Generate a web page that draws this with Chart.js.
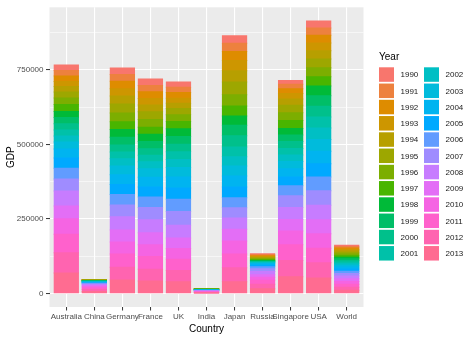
<!DOCTYPE html>
<html>
<head>
<meta charset="utf-8">
<title>GDP by country</title>
<script src="https://cdn.jsdelivr.net/npm/chart.js@4.4.1/dist/chart.umd.min.js"></script>
<style>
  html, body { margin: 0; padding: 0; background: #ffffff; }
  canvas { display: block; }
</style>
</head>
<body>
<canvas id="gdpChart" width="474" height="338"></canvas>
<script>
// categories and years
const countries = ['Australia', 'China', 'Germany', 'France', 'UK', 'India', 'Japan', 'Russia', 'Singapore', 'USA', 'World'];
const years = [1990, 1991, 1992, 1993, 1994, 1995, 1996, 1997, 1998, 1999, 2000, 2001,
               2002, 2003, 2004, 2005, 2006, 2007, 2008, 2009, 2010, 2011, 2012, 2013];

// GDP per capita, one value per year (1990 .. 2013)
const australia = [18200, 18800, 18000, 17000, 18100, 20300, 21900, 23400, 20400, 20600, 21700, 19500,
                   20100, 23500, 30500, 34000, 36100, 41000, 49600, 42800, 52000, 62500, 68000, 68200];
const china     = [300, 310, 350, 360, 450, 580, 670, 740, 790, 830, 910, 1000,
                   1090, 1230, 1430, 1660, 2000, 2570, 3300, 3640, 4320, 5320, 5990, 6700];
const germany   = [21500, 22600, 25500, 24600, 26200, 30600, 29400, 26000, 26300, 25900, 22900, 22800,
                   24300, 29300, 32900, 33500, 35000, 40100, 44000, 40200, 40300, 45000, 42400, 44900];
const france    = [21100, 21000, 23100, 21700, 22800, 26100, 26100, 23500, 24200, 24000, 21700, 21700,
                   23500, 28700, 32800, 33800, 35400, 40400, 44000, 40400, 39500, 42500, 39700, 41300];
const uk        = [17400, 18200, 18700, 16800, 18000, 21100, 22200, 24400, 25700, 26200, 25700, 25300,
                   27500, 31400, 36800, 38100, 40700, 46200, 43300, 35100, 35700, 37800, 38000, 39000];
const india     = [370, 300, 320, 300, 350, 370, 400, 420, 410, 440, 440, 450,
                   470, 550, 630, 710, 800, 1020, 1000, 1090, 1350, 1460, 1450, 1450];
const japan     = [24500, 27900, 30400, 34500, 37900, 42600, 37800, 33800, 30800, 34700, 37800, 33200,
                   31200, 33600, 36400, 35900, 34200, 34100, 37900, 39600, 42900, 46500, 46900, 39100];
const russia    = [3400, 3400, 3000, 2800, 2600, 2600, 2500, 2600, 1800, 1300, 1700, 2000,
                   2300, 2900, 4000, 5100, 6700, 8800, 11200, 8200, 10300, 13800, 14900, 15400];
const singapore = [12800, 14500, 16100, 18300, 21600, 24900, 26200, 26400, 21800, 21800, 23800, 21600,
                   22200, 23700, 27600, 29900, 33600, 39400, 39700, 38600, 46600, 53100, 54400, 55600];
const usa       = [23900, 24400, 25500, 26500, 27800, 28800, 30100, 31500, 32900, 34500, 36400, 37300,
                   38200, 39700, 41900, 44300, 46400, 48100, 48600, 47200, 48600, 49100, 50500, 52000];
const world     = [4300, 4500, 4800, 4800, 5100, 5500, 5500, 5400, 5300, 5400, 5500, 5400,
                   5500, 5900, 6600, 7100, 7700, 8600, 9200, 8800, 9300, 10200, 10300, 10400];

const gdpRows = [australia, china, germany, france, uk, india, japan, russia, singapore, usa, world];

// axis ticks
const yMajorTicks = [0, 250000, 500000, 750000];
const yMinorTicks = [125000, 375000, 625000, 875000];

const FONT = '"Liberation Sans", Arial, sans-serif';

// ggplot-style hue palette (HCL, l = 65, c = 100)
function hclToHex(h, c, l) {
    const rad = h * Math.PI / 180;
    const u = c * Math.cos(rad), v = c * Math.sin(rad);
    const Y = l > 8 ? Math.pow((l + 16) / 116, 3) : l / 903.3;
    const Xn = 0.95047, Yn = 1.0, Zn = 1.08883;
    const den = Xn + 15 * Yn + 3 * Zn;
    const un = 4 * Xn / den, vn = 9 * Yn / den;
    const up = u / (13 * l) + un, vp = v / (13 * l) + vn;
    const X = Y * 9 * up / (4 * vp);
    const Z = Y * (12 - 3 * up - 20 * vp) / (4 * vp);
    const lin = [
        3.240479 * X - 1.537150 * Y - 0.498535 * Z,
        -0.969256 * X + 1.875992 * Y + 0.041556 * Z,
        0.055648 * X - 0.204043 * Y + 1.057311 * Z
    ];
    return '#' + lin.map(x => {
        let s = x <= 0.0031308 ? 12.92 * x : 1.055 * Math.pow(x, 1 / 2.4) - 0.055;
        s = Math.min(1, Math.max(0, s));
        return Math.round(s * 255).toString(16).padStart(2, '0');
    }).join('');
}

const yearColors = years.map((y, i) => hclToHex(15 + i * 15, 100, 65));

// one dataset per year; 2013 first so 1990 ends up on top of each stack
const datasets = years.map((year, k) => ({
    label: String(year),
    data: gdpRows.map((row, i) => ({ x: i, y: row[k] })),
    backgroundColor: yearColors[k],
    borderWidth: 0,
    inflateAmount: 0.5,
    stack: 'gdp'
})).reverse();

const totals = gdpRows.map(row => row.reduce((a, b) => a + b, 0));
const yTop = Math.max(...totals);

// grey panel behind the grid
const panelBackground = {
    id: 'panelBackground',
    beforeDraw(chart) {
        const { ctx, chartArea: a } = chart;
        ctx.save();
        ctx.fillStyle = '#EBEBEB';
        ctx.fillRect(a.left, a.top, a.right - a.left, a.bottom - a.top);
        ctx.restore();
    }
};

// two-column legend on the right
const yearLegend = {
    id: 'yearLegend',
    afterDraw(chart) {
        const ctx = chart.ctx;
        ctx.save();
        ctx.fillStyle = '#000000';
        ctx.font = '10px ' + FONT;
        ctx.textBaseline = 'middle';
        ctx.textAlign = 'left';
        ctx.fillText('Year', 379, 57.5);

        const perCol = 12;
        const colX = [379, 424];
        const top = 67.3, step = 16.25, keyW = 15, keyH = 14.5;
        ctx.font = '8px ' + FONT;
        years.forEach((year, i) => {
            const col = Math.floor(i / perCol), row = i % perCol;
            const x = colX[col], y = top + row * step;
            ctx.fillStyle = yearColors[i];
            ctx.fillRect(x, y, keyW, keyH);
            ctx.fillStyle = '#1A1A1A';
            ctx.fillText(String(year), x + keyW + 6.5, y + keyH / 2 + 0.5);
        });
        ctx.restore();
    }
};

new Chart(document.getElementById('gdpChart'), {
    type: 'bar',
    data: { datasets },
    options: {
        responsive: false,
        animation: false,
        events: [],
        layout: { padding: { top: 4.5, right: 110.5, bottom: 0, left: 0 } },
        datasets: {
            bar: { barPercentage: 0.865, categoryPercentage: 1.0 }
        },
        plugins: {
            legend: { display: false },
            tooltip: { enabled: false }
        },
        scales: {
            x: {
                type: 'linear',
                offset: false,
                min: -0.6,
                max: countries.length - 1 + 0.6,
                afterFit: s => { s.height = 31; },
                afterBuildTicks: s => { s.ticks = countries.map((c, i) => ({ value: i })); },
                border: { display: false },
                grid: { offset: false, color: '#FFFFFF', lineWidth: 1.1, tickColor: '#333333', tickLength: 3.5, tickWidth: 1 },
                ticks: {
                    padding: 1.5,
                    maxRotation: 0,
                    autoSkip: false,
                    color: '#4D4D4D',
                    font: { family: FONT, size: 8 },
                    callback: v => countries[v]
                },
                title: {
                    display: true,
                    text: 'Country',
                    color: '#000000',
                    font: { family: FONT, size: 10 },
                    padding: { top: 0, bottom: 3 }
                }
            },
            y: {
                stacked: true,
                min: -0.05 * yTop,
                max: 1.05 * yTop,
                afterFit: s => { s.width = 49.5; },
                afterBuildTicks: s => {
                    s.ticks = yMajorTicks.concat(yMinorTicks).sort((a, b) => a - b).map(v => ({ value: v }));
                },
                border: { display: false },
                grid: {
                    color: '#FFFFFF',
                    lineWidth: c => (c.tick && yMinorTicks.includes(c.tick.value)) ? 0.55 : 1.1,
                    tickColor: c => (c.tick && yMinorTicks.includes(c.tick.value)) ? 'rgba(0,0,0,0)' : '#333333',
                    tickLength: 3.5,
                    tickWidth: 1
                },
                ticks: {
                    padding: 2.5,
                    color: '#4D4D4D',
                    font: { family: FONT, size: 8 },
                    callback: v => yMajorTicks.includes(v) ? String(v) : ''
                },
                title: {
                    display: true,
                    text: 'GDP',
                    color: '#000000',
                    font: { family: FONT, size: 10 },
                    padding: { top: 5, bottom: 0 }
                }
            }
        }
    },
    plugins: [panelBackground, yearLegend]
});
</script>
</body>
</html>
